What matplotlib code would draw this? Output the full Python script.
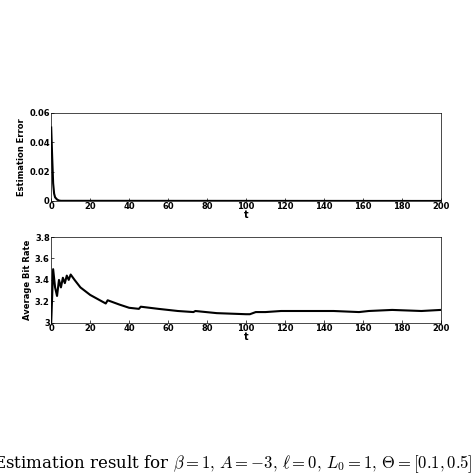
import matplotlib
matplotlib.use("Agg")
import matplotlib.pyplot as plt

t_err = [0, 0.5, 1, 1.5, 2, 3, 4, 5, 200]
err = [0.05, 0.03, 0.012, 0.005, 0.0025, 0.001, 0.0003, 0.0001, 0.0]

t_rate = [0, 1, 2, 3, 4, 5, 6, 7, 8, 9, 10, 12, 15, 20, 25, 28, 29, 35, 40, 45, 46, 55, 65, 73, 74,
          85, 100, 102, 105, 110, 118, 130, 145, 158, 163, 175, 190, 200]
rate = [3.0, 3.5, 3.33, 3.25, 3.4, 3.33, 3.42, 3.37, 3.44, 3.40, 3.45, 3.40, 3.33, 3.26, 3.21, 3.18, 3.21,
        3.17, 3.14, 3.13, 3.15, 3.13, 3.11, 3.10, 3.11, 3.09, 3.08, 3.08, 3.10, 3.10, 3.11, 3.11, 3.11,
        3.10, 3.11, 3.12, 3.11, 3.12]

err_ticks = [0, 0.02, 0.04, 0.06]
rate_ticks = [3, 3.2, 3.4, 3.6, 3.8]
x_ticks = list(range(0, 201, 20))

plt.rcParams['font.family'] = 'DejaVu Sans'
plt.rcParams['mathtext.fontset'] = 'cm'
fig = plt.figure(figsize=(4.74, 4.74), dpi=100)

def style(ax, yl, yt, ylim):
    ax.set_xlim(0, 200)
    ax.set_ylim(*ylim)
    ax.set_xticks(x_ticks)
    ax.set_yticks(yt)
    ax.set_yticklabels([f"{v:g}" for v in yt])
    ax.tick_params(direction='in', length=2, labelsize=6, pad=1, width=0.5)
    for lab in ax.get_xticklabels() + ax.get_yticklabels():
        lab.set_fontweight('bold')
    ax.set_xlabel('t', fontsize=7, fontweight='bold', labelpad=-1)
    ax.set_ylabel(yl, fontsize=6, fontweight='bold', labelpad=2)
    for s in ax.spines.values():
        s.set_linewidth(0.5)

ax1 = fig.add_axes([0.108, 0.576, 0.822, 0.186])
ax1.plot(t_err, err, color='black', lw=1.5)
style(ax1, 'Estimation Error', err_ticks, (0, 0.06))

ax2 = fig.add_axes([0.108, 0.319, 0.822, 0.181])
ax2.plot(t_rate, rate, color='black', lw=1.5)
style(ax2, 'Average Bit Rate', rate_ticks, (3, 3.8))

fig.text(0.997, 0.013,
         r'Estimation result for $\beta = 1,\, A = -3,\, \ell = 0,\, L_0 = 1,\, \Theta = [0.1, 0.5]$',
         ha='right', va='baseline', fontsize=12, family='serif', math_fontfamily='cm',
         fontname='DejaVu Serif')
fig.savefig('out.png', dpi=100)
